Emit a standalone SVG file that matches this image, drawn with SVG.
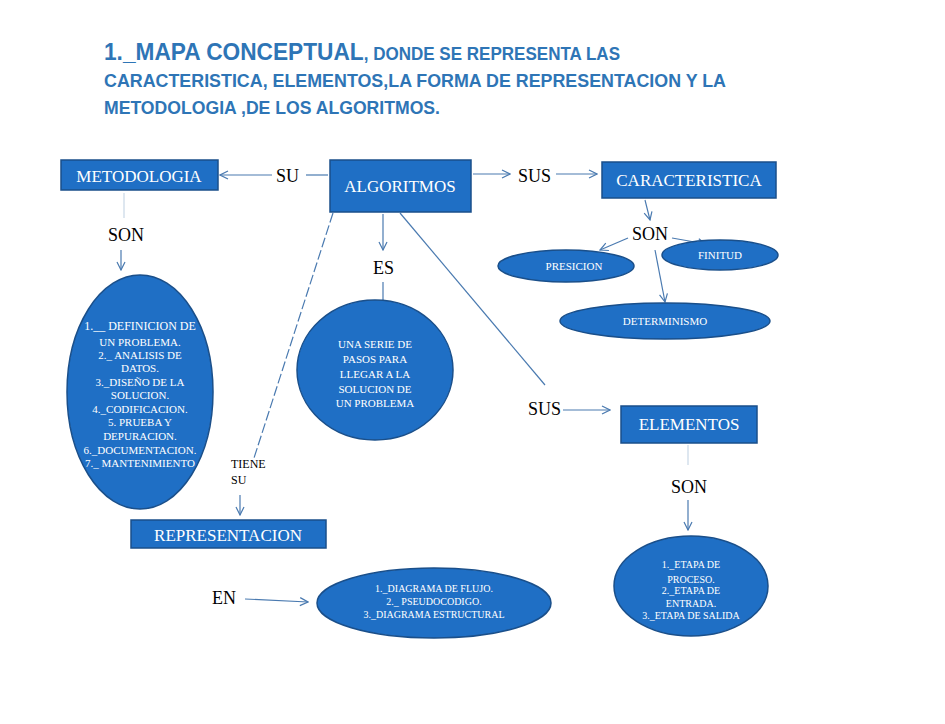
<svg xmlns="http://www.w3.org/2000/svg" width="945" height="724" viewBox="0 0 945 724">
<style>
.box{fill:#1f6fc5;stroke:#1a4f8a;stroke-width:1.5}
.ell{fill:#1f6fc5;stroke:#1a4f8a;stroke-width:1.5}
.bt{font-family:"Liberation Serif",serif;fill:#fff;font-size:17px;text-anchor:middle}
.et{font-family:"Liberation Serif",serif;fill:#fff;font-size:11px;text-anchor:middle}
.lb{font-family:"Liberation Serif",serif;fill:#000;font-size:18px}
.sm{font-family:"Liberation Serif",serif;fill:#000;font-size:12px}
.tt{font-family:"Liberation Sans",sans-serif;font-weight:bold;fill:#2e75b6}
.c{stroke:#4a7ab0;stroke-width:1.2;fill:none}
</style>
<defs><marker id="a" markerWidth="10" markerHeight="10" refX="9" refY="5" orient="auto" markerUnits="userSpaceOnUse"><path d="M1,1 L9,5 L1,9" fill="none" stroke="#4a7ab0" stroke-width="1.2"/></marker></defs>
<rect width="945" height="724" fill="#fff"/>
<g id="title">
<text class="tt" x="104" y="60" textLength="516" lengthAdjust="spacingAndGlyphs"><tspan style="font-size:24px">1._MAPA CONCEPTUAL</tspan><tspan style="font-size:18px">, DONDE SE REPRESENTA LAS</tspan></text>
<text class="tt" x="104" y="87" style="font-size:18px" textLength="622" lengthAdjust="spacingAndGlyphs">CARACTERISTICA, ELEMENTOS,LA FORMA DE REPRESENTACION Y LA</text>
<text class="tt" x="104" y="114" style="font-size:18px" textLength="336" lengthAdjust="spacingAndGlyphs">METODOLOGIA ,DE LOS ALGORITMOS.</text>
</g>
<g id="connectors">
<line class="c" x1="328" y1="175" x2="306" y2="175"/>
<line class="c" x1="272" y1="175" x2="220" y2="175" marker-end="url(#a)"/>
<line class="c" x1="473" y1="174" x2="510" y2="174" marker-end="url(#a)"/>
<line class="c" x1="556" y1="174" x2="597" y2="174" marker-end="url(#a)"/>
<line class="c" x1="124" y1="193" x2="124" y2="218" stroke-opacity="0.3"/>
<line class="c" x1="121" y1="250" x2="121" y2="270" marker-end="url(#a)"/>
<line class="c" x1="383" y1="214" x2="383" y2="250" marker-end="url(#a)"/>
<line class="c" x1="383" y1="282" x2="383" y2="310" marker-end="url(#a)"/>
<line class="c" x1="333" y1="213" x2="254" y2="458" stroke-dasharray="10,3"/>
<line class="c" x1="240" y1="495" x2="240" y2="515" marker-end="url(#a)"/>
<line class="c" x1="400" y1="213" x2="545" y2="385" stroke-width="0.8"/>
<line class="c" x1="563" y1="410" x2="610" y2="410" marker-end="url(#a)"/>
<line class="c" x1="645" y1="200" x2="650" y2="220" marker-end="url(#a)"/>
<line class="c" x1="628" y1="238" x2="600" y2="250" marker-end="url(#a)"/>
<line class="c" x1="672" y1="238" x2="706" y2="244" marker-end="url(#a)"/>
<line class="c" x1="655" y1="250" x2="665" y2="302" marker-end="url(#a)"/>
<line class="c" x1="688" y1="445" x2="688" y2="465" stroke-opacity="0.3"/>
<line class="c" x1="688" y1="500" x2="688" y2="530" marker-end="url(#a)"/>
<line class="c" x1="245" y1="599" x2="308" y2="602" marker-end="url(#a)"/>
<text class="lb" x="276" y="182">SU</text>
<text class="lb" x="518" y="182">SUS</text>
<text class="lb" x="108" y="241">SON</text>
<text class="lb" x="373" y="274">ES</text>
<text class="lb" x="632" y="240">SON</text>
<text class="lb" x="528" y="415">SUS</text>
<text class="lb" x="671" y="493">SON</text>
<text class="lb" x="212" y="604">EN</text>
<text class="sm" x="231" y="468">TIENE</text>
<text class="sm" x="231" y="484">SU</text>
</g>
<g id="metodologia"><rect class="box" x="61" y="160" width="157" height="30"/><text class="bt" x="139" y="182">METODOLOGIA</text></g>
<g id="algoritmos"><rect class="box" x="330" y="160" width="141" height="52"/><text class="bt" x="400" y="192">ALGORITMOS</text></g>
<g id="caracteristica"><rect class="box" x="602" y="162" width="174" height="36"/><text class="bt" x="689" y="186">CARACTERISTICA</text></g>
<g id="elementos"><rect class="box" x="621" y="406" width="136" height="37"/><text class="bt" x="689" y="430">ELEMENTOS</text></g>
<g id="representacion"><rect class="box" x="131" y="520" width="195" height="28"/><text class="bt" x="228" y="541">REPRESENTACION</text></g>
<g id="pasos"><ellipse class="ell" cx="140" cy="392" rx="73" ry="117"/>
<text class="et" x="140" y="330"><tspan x="140" style="font-size:12px">1.__ DEFINICION DE</tspan><tspan x="140" dy="16">UN PROBLEMA.</tspan><tspan x="140" dy="13">2._ ANALISIS DE</tspan><tspan x="140" dy="13">DATOS.</tspan><tspan x="140" dy="14">3._DISEÑO DE LA</tspan><tspan x="140" dy="13">SOLUCION.</tspan><tspan x="140" dy="14">4._CODIFICACION.</tspan><tspan x="140" dy="13">5. PRUEBA Y</tspan><tspan x="140" dy="14">DEPURACION.</tspan><tspan x="140" dy="14">6._DOCUMENTACION.</tspan><tspan x="140" dy="13">7._ MANTENIMIENTO</tspan></text></g>
<g id="serie"><ellipse class="ell" cx="375" cy="370" rx="78" ry="70"/>
<text class="et" x="375" y="348"><tspan x="375">UNA SERIE DE</tspan><tspan x="375" dy="15">PASOS PARA</tspan><tspan x="375" dy="15">LLEGAR A LA</tspan><tspan x="375" dy="15">SOLUCION DE</tspan><tspan x="375" dy="14">UN PROBLEMA</tspan></text></g>
<g id="presicion"><ellipse class="ell" cx="566" cy="266" rx="68" ry="16"/><text class="et" x="574" y="270">PRESICION</text></g>
<g id="finitud"><ellipse class="ell" cx="720" cy="255" rx="58" ry="15"/><text class="et" x="720" y="259">FINITUD</text></g>
<g id="determinismo"><ellipse class="ell" cx="665" cy="321" rx="105" ry="18"/><text class="et" x="665" y="325">DETERMINISMO</text></g>
<g id="formas"><ellipse class="ell" cx="434" cy="603" rx="117" ry="35"/>
<text class="et" x="434" y="592" style="font-size:10px"><tspan x="434">1._DIAGRAMA DE FLUJO.</tspan><tspan x="434" dy="13">2._ PSEUDOCODIGO.</tspan><tspan x="434" dy="13">3._DIAGRAMA ESTRUCTURAL</tspan></text></g>
<g id="etapas"><ellipse class="ell" cx="691" cy="586" rx="77" ry="50"/>
<text class="et" x="691" y="568" style="font-size:10px"><tspan x="691">1._ETAPA DE</tspan><tspan x="691" dy="15">PROCESO.</tspan><tspan x="691" dy="11">2._ETAPA DE</tspan><tspan x="691" dy="13">ENTRADA.</tspan><tspan x="691" dy="12">3._ETAPA DE SALIDA</tspan></text></g>
</svg>
